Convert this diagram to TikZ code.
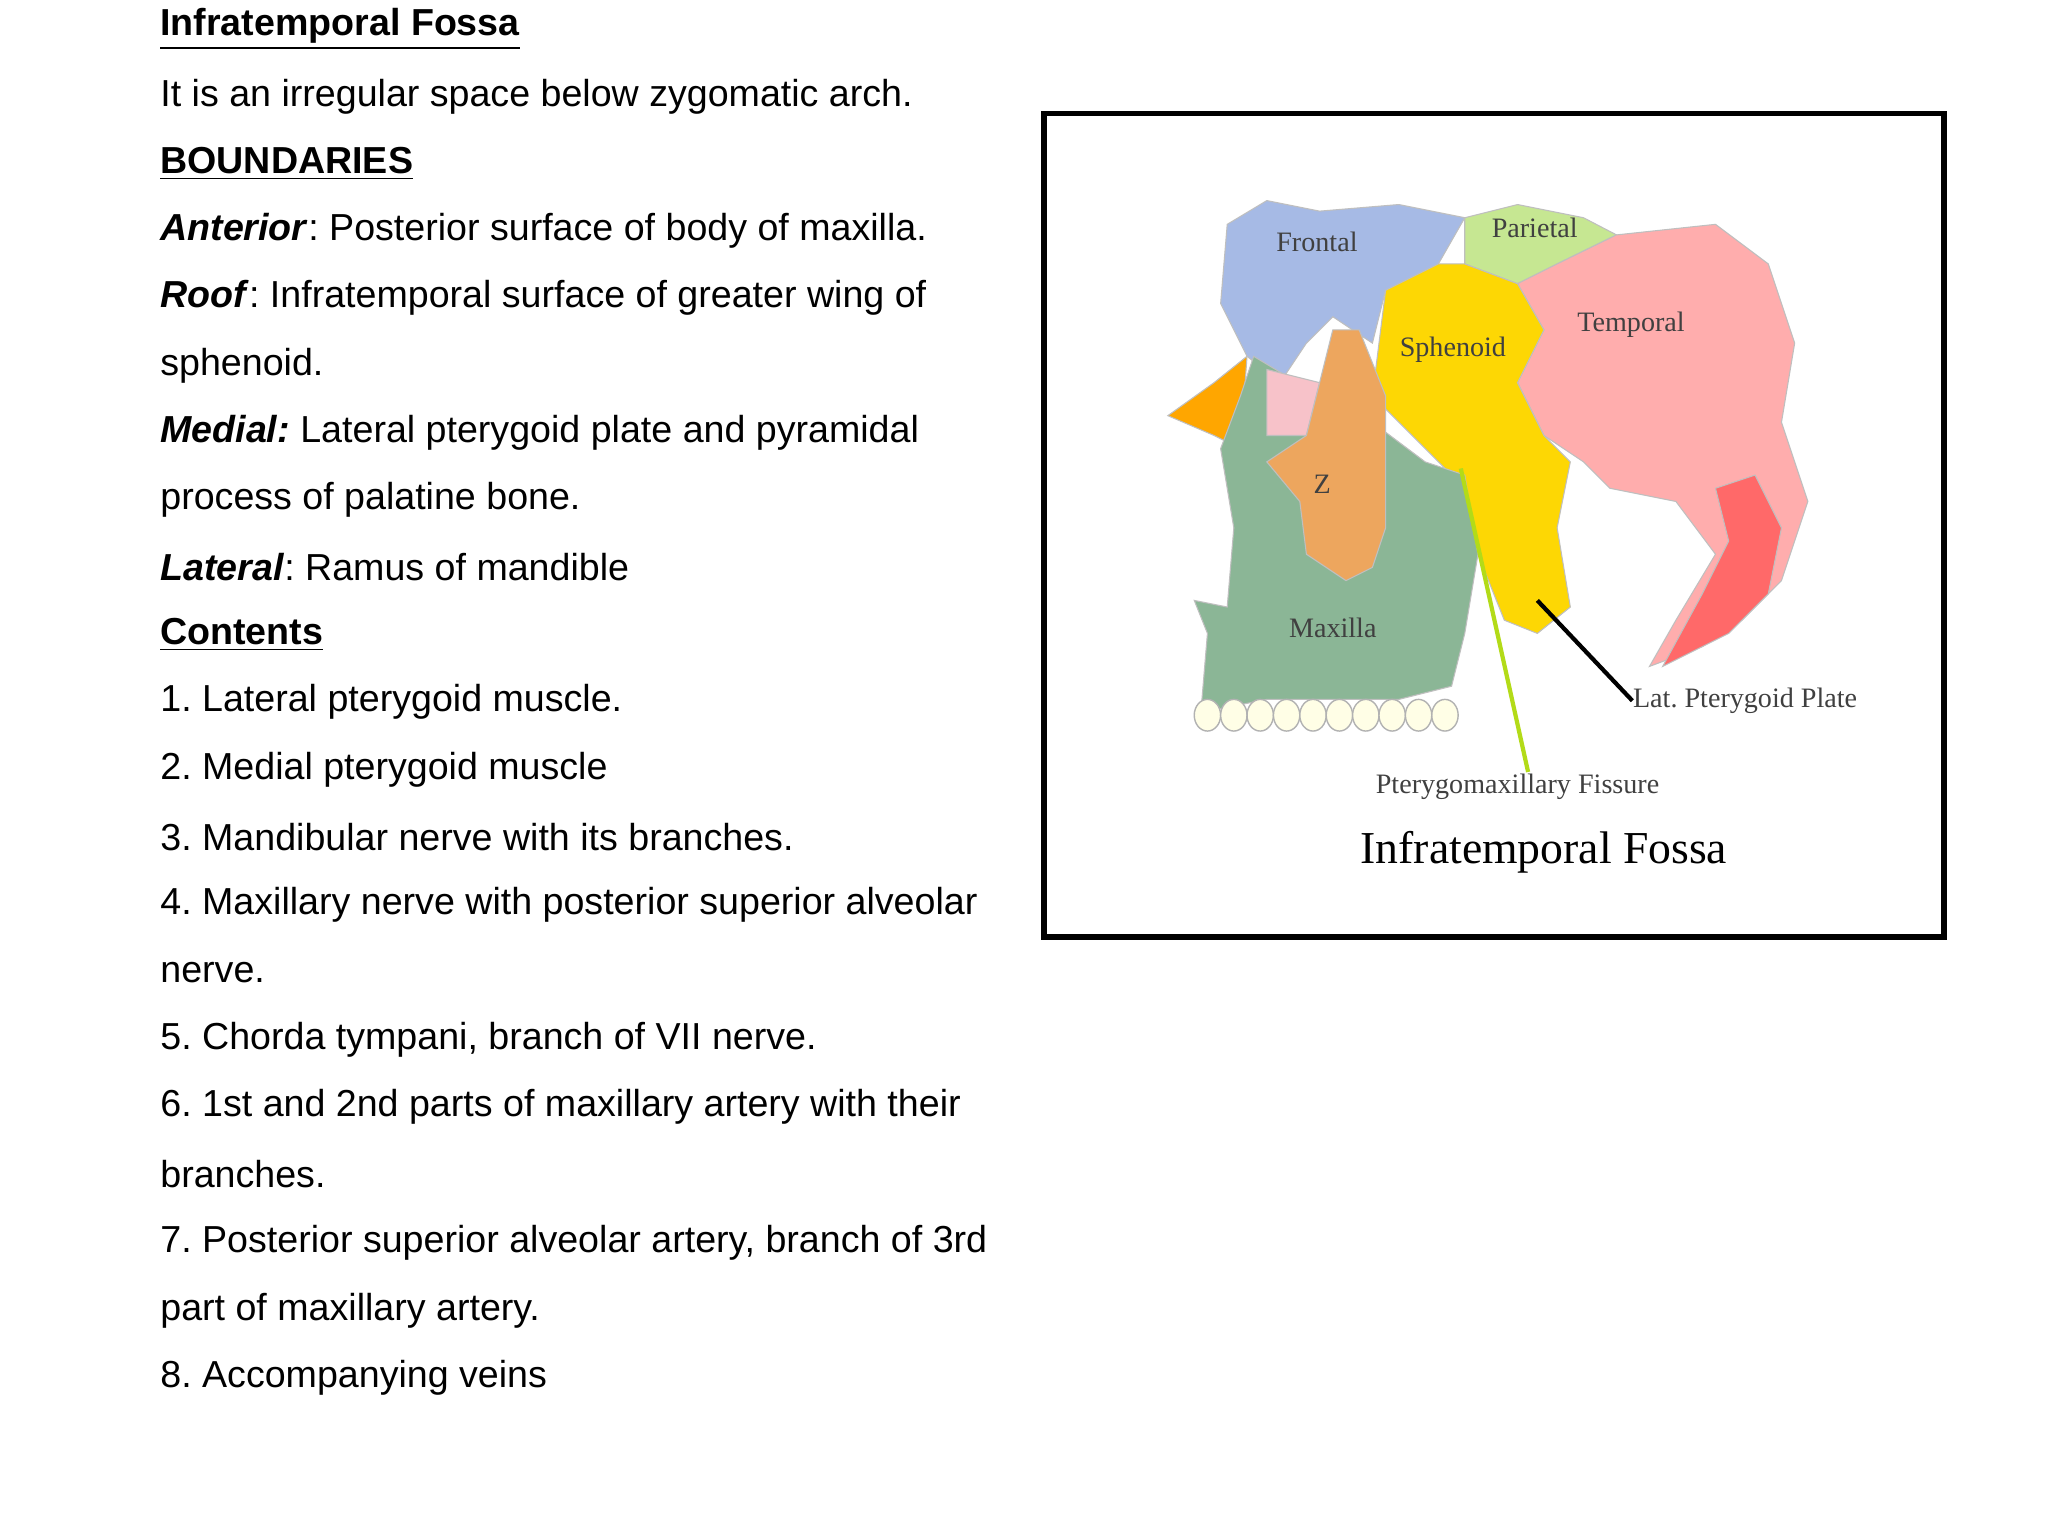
\documentclass[tikz,border=0pt]{standalone}
\usepackage{fontspec}
\setmainfont{Liberation Sans}
\newfontfamily\serifl{Liberation Serif}
\begin{document}
\frenchspacing
\begin{tikzpicture}[x=0.0132cm,y=-0.0132cm,
 txt/.style={anchor=west,inner sep=0pt,font=\fontsize{10.7}{12}\selectfont},
 lab/.style={inner sep=0pt,font=\serifl\fontsize{8}{10}\selectfont,text=black!75},
 bone/.style={draw=black!25,line width=0.3pt}]
\useasboundingbox (0,0) rectangle (1552,1164);
\fill[white] (0,0) rectangle (1552,1164);
% text column
\node[txt] (t1) at (121,22) {\textbf{\underline{Infratemporal Fossa}}};
\node[txt] (t2) at (121,73) {It is an irregular space below zygomatic arch.};
\node[txt] (t3) at (121,124) {\textbf{\underline{BOUNDARIES}}};
\node[txt] (t4) at (121,175) {\textbf{\textit{Anterior}}: Posterior surface of body of maxilla.};
\node[txt] (t5) at (121,226) {\textbf{\textit{Roof}}: Infratemporal surface of greater wing of};
\node[txt] (t6) at (121,277) {sphenoid.};
\node[txt] (t7) at (121,328) {\textbf{\textit{Medial:}} Lateral pterygoid plate and pyramidal};
\node[txt] (t8) at (121,379) {process of palatine bone.};
\node[txt] (t9) at (121,430) {\textbf{\textit{Lateral}}: Ramus of mandible};
\node[txt] (t10) at (121,481) {\textbf{\underline{Contents}}};
\node[txt] (t11) at (121,532) {1. Lateral pterygoid muscle.};
\node[txt] (t12) at (121,583) {2. Medial pterygoid muscle};
\node[txt] (t13) at (121,634) {3. Mandibular nerve with its branches.};
\node[txt] (t14) at (121,686) {4. Maxillary nerve with posterior superior alveolar};
\node[txt] (t15) at (121,737) {nerve.};
\node[txt] (t16) at (121,788) {5. Chorda tympani, branch of VII nerve.};
\node[txt] (t17) at (121,839) {6. 1st and 2nd parts of maxillary artery with their};
\node[txt] (t18) at (121,890) {branches.};
\node[txt] (t19) at (121,942) {7. Posterior superior alveolar artery, branch of 3rd};
\node[txt] (t20) at (121,993) {part of maxillary artery.};
\node[txt] (t21) at (121,1044) {8. Accompanying veins};
% frame
\draw[line width=1.6pt] (791,86) rectangle (1473,710);
% bones
\fill[bone,fill=orange!70!yellow] (885,315)--(920,290)--(945,270)--(940,340)--(920,330)--cycle;
\fill[bone,fill=cyan!45!blue!35] (930,170)--(960,152)--(1000,160)--(1060,155)--(1110,165)--(1090,200)--(1050,220)--(1040,260)--(1010,240)--(990,260)--(970,290)--(945,270)--(925,230)--cycle;
\fill[bone,fill=yellow!50!green!45] (1110,165)--(1150,155)--(1200,165)--(1225,178)--(1180,200)--(1150,215)--(1110,200)--cycle;
\fill[bone,fill=red!20!pink!80] (1150,215)--(1180,200)--(1225,178)--(1300,170)--(1340,200)--(1360,260)--(1350,320)--(1370,380)--(1350,440)--(1320,470)--(1290,490)--(1250,505)--(1270,470)--(1300,420)--(1270,380)--(1220,370)--(1200,350)--(1170,330)--(1150,290)--(1170,250)--cycle;
\fill[bone,fill=red!45!pink] (1300,370)--(1330,360)--(1350,400)--(1340,450)--(1310,480)--(1260,505)--(1290,450)--(1310,410)--cycle;
\fill[bone,fill=yellow!75!orange] (1050,220)--(1090,200)--(1110,200)--(1150,215)--(1170,250)--(1150,290)--(1170,330)--(1190,350)--(1180,400)--(1190,460)--(1165,480)--(1140,470)--(1120,420)--(1100,360)--(1070,330)--(1040,300)--cycle;
\fill[bone,fill=teal!40!green!30!gray!70] (950,270)--(1000,300)--(1040,320)--(1080,350)--(1110,360)--(1120,420)--(1110,480)--(1100,520)--(1060,530)--(960,530)--(910,540)--(915,480)--(905,455)--(930,460)--(935,400)--(925,340)--(940,300)--cycle;
\fill[bone,fill=pink!80!purple!60] (960,280)--(1000,290)--(990,330)--(960,330)--cycle;
\fill[bone,fill=orange!60!brown!70] (1010,250)--(1030,250)--(1050,300)--(1050,400)--(1040,430)--(1020,440)--(990,420)--(985,380)--(960,350)--(990,330)--(1000,290)--cycle;
\foreach \i in {0,...,9} \fill[draw=black!30,fill=white!90!yellow] (915+\i*20,542) ellipse (10 and 12);
% labels
\node[lab] (fr) at (998,183) {Frontal};
\node[lab] (pa) at (1163,173) {Parietal};
\node[lab] (te) at (1236,246) {Temporal};
\node[lab] (sp) at (1101,265) {Sphenoid};
\node[lab] (z) at (1002,367) {Z};
\node[lab] (mx) at (1010,476) {Maxilla};
\node[lab,anchor=west] (lp) at (1237,531) {Lat. Pterygoid Plate};
\node[lab] (pf) at (1150,596) {Pterygomaxillary Fissure};
\node[inner sep=0pt,font=\serifl\fontsize{13}{15}\selectfont] (title) at (1170,646) {Infratemporal Fossa};
\coordinate (ya) at (1107,355);
\coordinate (yb) at (1158,585);
\coordinate (ba) at (1165,455);
\draw[yellow!70!green,line width=1.2pt] (ya)--(yb);
\draw[black,line width=1.2pt] (ba)--(lp.west);
\end{tikzpicture}
\end{document}
